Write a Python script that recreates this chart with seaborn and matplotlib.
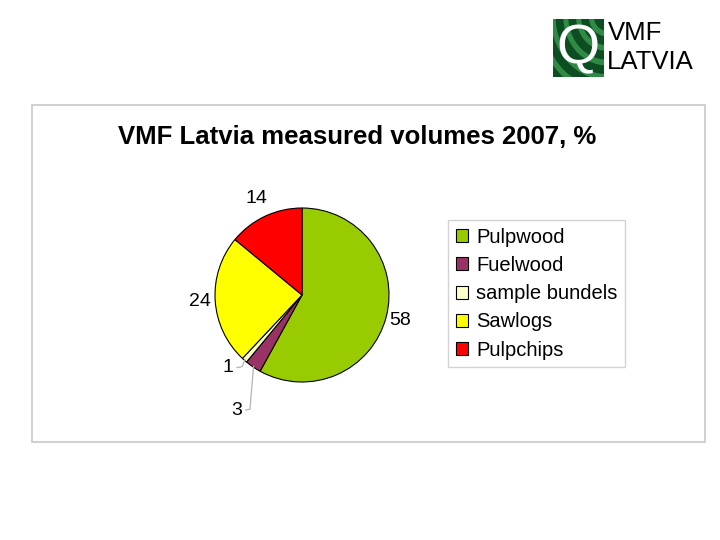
import numpy as np
import matplotlib
matplotlib.use("Agg")
import matplotlib.pyplot as plt
from matplotlib.patches import Rectangle, Wedge
import seaborn as sns

# data
categories = ["Pulpwood", "Fuelwood", "sample bundels", "Sawlogs", "Pulpchips"]
shares = [58, 3, 1, 24, 14]
colors = ["#99CC00", "#993366", "#FFFFCC", "#FFFF00", "#FF0000"]
title = "VMF Latvia measured volumes 2007, %"

sns.set_theme(style="white")
plt.rcParams["font.family"] = ["Liberation Sans", "DejaVu Sans"]
plt.rcParams["text.color"] = "black"

W, H = 720, 540
fig = plt.figure(figsize=(7.2, 5.4), dpi=100)
fig.patch.set_facecolor("white")

def fx(x):
    return x / W

def fy(y):
    return 1 - y / H

# chart area frame
fig.patches.append(Rectangle((fx(32), fy(442)), fx(705) - fx(32), fy(105) - fy(442),
                             transform=fig.transFigure, fill=False,
                             edgecolor="#c8c8c8", linewidth=1.2))
fig.text(fx(357), fy(137), title, ha="center", va="center",
         fontsize=18.5, fontweight="bold", color="black")

# logo
logo = fig.add_axes([fx(553), fy(77), fx(604) - fx(553), fy(19) - fy(77)])
logo.set_xlim(0, 1)
logo.set_ylim(0, 1)
logo.axis("off")
logo.add_patch(Rectangle((0, 0), 1, 1, facecolor="#0d4d22", edgecolor="none"))
for r in [0.35, 0.6, 0.85, 1.1, 1.35]:
    logo.add_patch(Wedge((1.05, 1.05), r, 170, 290, width=0.1,
                         facecolor="#2f8a45", edgecolor="none"))
logo.text(0.48, 0.47, "Q", ha="center", va="center", fontsize=40,
          color="white", family="Liberation Sans")
fig.text(fx(608), fy(33), "VMF", ha="left", va="center", fontsize=18.5, color="black")
fig.text(fx(607), fy(62), "LATVIA", ha="left", va="center", fontsize=18.5, color="black")

# pie
cx, cy, rad = 302, 295, 87
ax = fig.add_axes([fx(cx - rad), fy(cy + rad), 2 * rad / W, 2 * rad / H])
wedges, _ = ax.pie(shares, colors=colors, startangle=90, counterclock=False,
                   radius=1, wedgeprops=dict(edgecolor="black", linewidth=0.8))
ax.set_xlim(-1, 1)
ax.set_ylim(-1, 1)
ax.set_aspect("equal")
ax.axis("off")

label_r = [1.17, None, None, 1.18, 1.23]
text_r = [None, 1.52, 1.19]
text_ang = [None, -119.5, -135.5]
for i, (w, v) in enumerate(zip(wedges, shares)):
    mid = np.deg2rad((w.theta1 + w.theta2) / 2)
    if label_r[i] is not None:
        ax.text(label_r[i] * np.cos(mid), label_r[i] * np.sin(mid), str(v),
                ha="center", va="center", fontsize=14, color="black", clip_on=False)
    else:
        a = np.deg2rad(text_ang[i])
        tx, ty = text_r[i] * np.cos(a), text_r[i] * np.sin(a)
        ex, ey = 0.99 * np.cos(mid), 0.99 * np.sin(mid)
        ax.text(tx, ty, str(v), ha="center", va="center", fontsize=14,
                color="black", clip_on=False)
        # leader line: short horizontal run from the label, then to the wedge
        x0 = tx + 0.1
        x1 = x0 + 0.05 if i == 1 else x0 + 0.06
        ax.plot([x0, x1, ex], [ty, ty + 0.01, ey], color="#b4b4b4", lw=0.9,
                clip_on=False)

# legend
leg = fig.legend(wedges, categories, loc="upper left",
                 bbox_to_anchor=(fx(448), fy(220)), bbox_transform=fig.transFigure,
                 fontsize=14.5, frameon=True, fancybox=False, handlelength=0.62,
                 handleheight=0.62, handletextpad=0.4, labelspacing=0.46,
                 borderpad=0.38, borderaxespad=0, labelcolor="black")
leg.get_frame().set_edgecolor("#c8c8c8")
leg.get_frame().set_linewidth(1.0)

fig.savefig("out.png", dpi=100, facecolor="white")
